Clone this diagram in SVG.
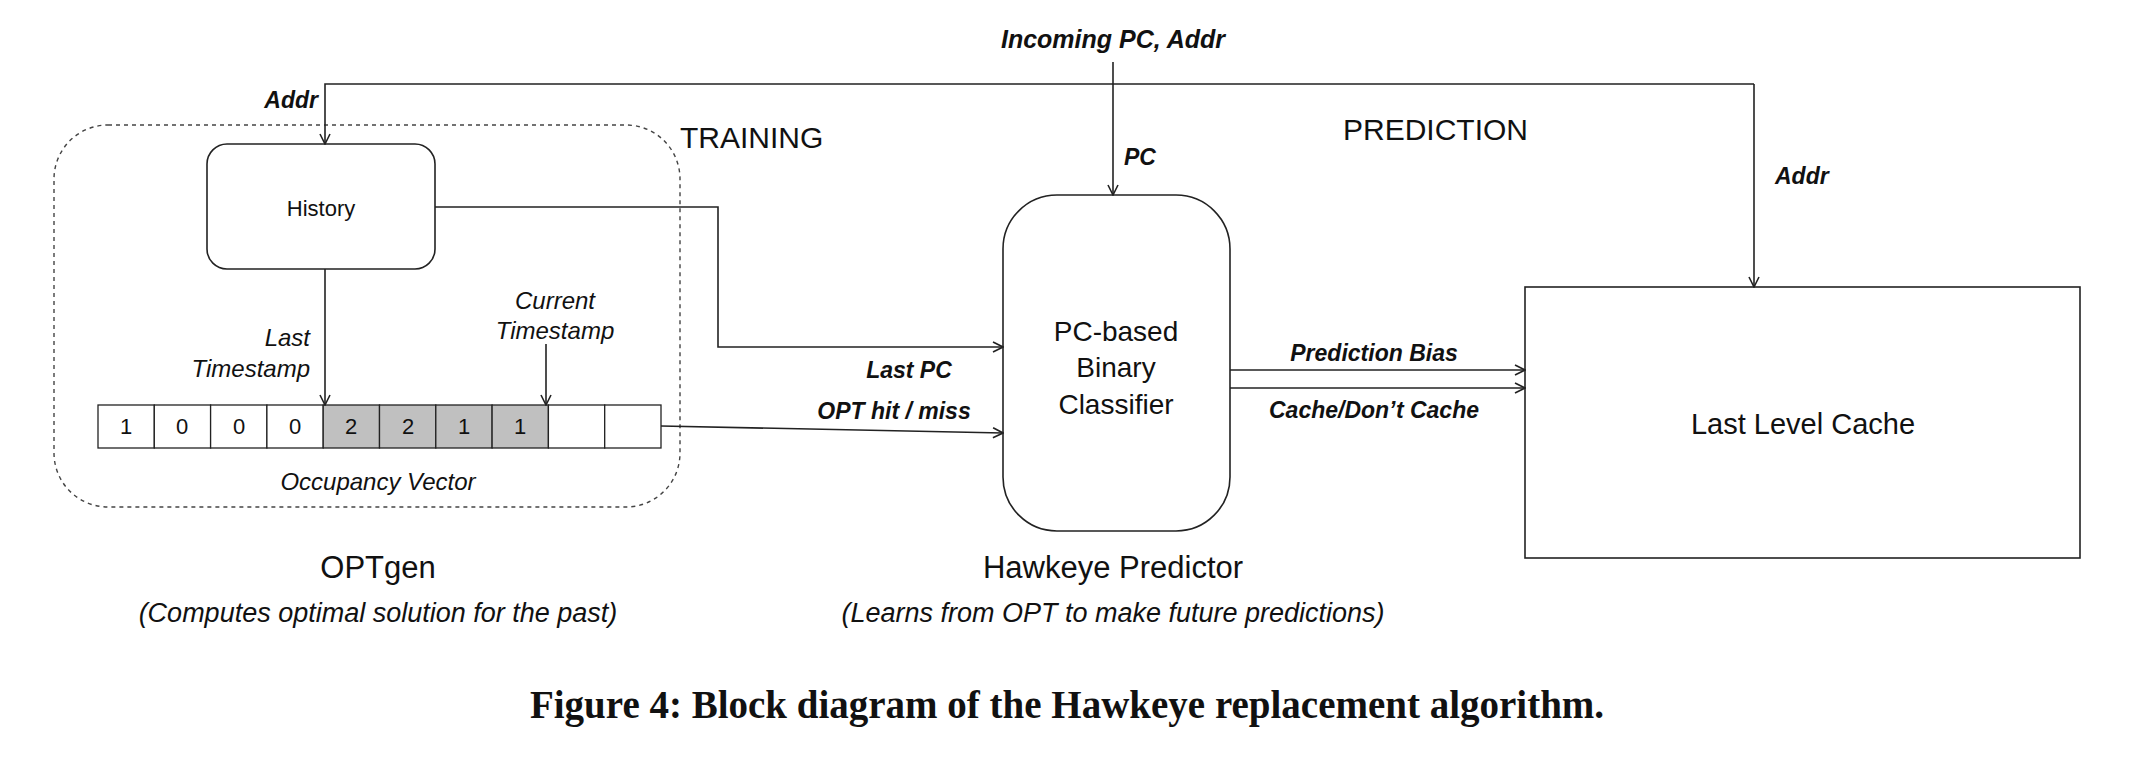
<svg xmlns="http://www.w3.org/2000/svg" width="2133" height="760" viewBox="0 0 2133 760">
<style>
text{font-family:"Liberation Sans",Arial,sans-serif;fill:#111}
.lbl{font-weight:bold;font-style:italic}
.it{font-style:italic}
.ln{fill:none;stroke:#222;stroke-width:1.6}
.cell{fill:#fff;stroke:#222;stroke-width:1.3}
.g{fill:#c0c0c0}
.ct{text-anchor:middle}
</style>
<defs><marker id="a" viewBox="0 0 12 12" refX="11" refY="6" markerWidth="12" markerHeight="12" markerUnits="userSpaceOnUse" orient="auto"><path d="M1,1 L11,6 L1,11" fill="none" stroke="#222" stroke-width="1.6"/></marker></defs>
<rect width="2133" height="760" fill="#fff"/>
<g id="training">
<rect x="54" y="125" width="626" height="382" rx="54" fill="none" stroke="#444" stroke-width="1.4" stroke-dasharray="4,4"/>
<text x="680" y="148" font-size="30">TRAINING</text>
</g>
<text x="1343" y="140" font-size="30">PREDICTION</text>
<g id="history"><rect x="207" y="144" width="228" height="125" rx="20" fill="#fff" stroke="#222" stroke-width="1.6"/><text x="321" y="216" font-size="22" text-anchor="middle">History</text></g>
<g id="vector" font-size="22">
<rect class="cell" x="98" y="405" width="56.3" height="43"/><rect class="cell" x="154.3" y="405" width="56.3" height="43"/><rect class="cell" x="210.6" y="405" width="56.3" height="43"/><rect class="cell" x="266.9" y="405" width="56.3" height="43"/>
<rect class="cell g" x="323.2" y="405" width="56.3" height="43"/><rect class="cell g" x="379.5" y="405" width="56.3" height="43"/><rect class="cell g" x="435.8" y="405" width="56.3" height="43"/><rect class="cell g" x="492.1" y="405" width="56.3" height="43"/>
<rect class="cell" x="548.4" y="405" width="56.3" height="43"/><rect class="cell" x="604.7" y="405" width="56.3" height="43"/>
<text class="ct" x="126" y="434">1</text><text class="ct" x="182" y="434">0</text><text class="ct" x="239" y="434">0</text><text class="ct" x="295" y="434">0</text><text class="ct" x="351" y="434">2</text><text class="ct" x="408" y="434">2</text><text class="ct" x="464" y="434">1</text><text class="ct" x="520" y="434">1</text>
<text class="it" x="378" y="490" text-anchor="middle" font-size="24">Occupancy Vector</text>
</g>
<g id="classifier"><rect x="1003" y="195" width="227" height="336" rx="54" fill="#fff" stroke="#222" stroke-width="1.6"/>
<text x="1116" y="341" font-size="28" text-anchor="middle">PC-based</text><text x="1116" y="377" font-size="28" text-anchor="middle">Binary</text><text x="1116" y="414" font-size="28" text-anchor="middle">Classifier</text></g>
<g id="llc"><rect x="1525" y="287" width="555" height="271" fill="#fff" stroke="#222" stroke-width="1.6"/><text x="1803" y="434" font-size="29" text-anchor="middle">Last Level Cache</text></g>
<g id="connectors">
<path class="ln" d="M1113,62 V195" marker-end="url(#a)"/>
<path class="ln" d="M1754,84 H325 V144" marker-end="url(#a)"/>
<path class="ln" d="M1754,84 V287" marker-end="url(#a)"/>
<path class="ln" d="M325,269 V405" marker-end="url(#a)"/>
<path class="ln" d="M546,344 V405" marker-end="url(#a)"/>
<path class="ln" d="M435,207 H718 V347 H1003" marker-end="url(#a)"/>
<path class="ln" d="M661,426 L1003,433" marker-end="url(#a)"/>
<path class="ln" d="M1230,370 H1525" marker-end="url(#a)"/>
<path class="ln" d="M1230,388 H1525" marker-end="url(#a)"/>
</g>
<g id="labels" font-size="23">
<text class="lbl" x="1113" y="48" text-anchor="middle" font-size="25">Incoming PC, Addr</text>
<text class="lbl" x="318" y="108" text-anchor="end">Addr</text>
<text class="lbl" x="1124" y="165">PC</text>
<text class="lbl" x="1775" y="184">Addr</text>
<text class="it" x="310" y="346" text-anchor="end" font-size="24">Last</text>
<text class="it" x="310" y="377" text-anchor="end" font-size="24">Timestamp</text>
<text class="it" x="555" y="309" text-anchor="middle" font-size="24">Current</text>
<text class="it" x="555" y="339" text-anchor="middle" font-size="24">Timestamp</text>
<text class="lbl" x="909" y="378" text-anchor="middle">Last PC</text>
<text class="lbl" x="894" y="419" text-anchor="middle">OPT hit / miss</text>
<text class="lbl" x="1374" y="361" text-anchor="middle">Prediction Bias</text>
<text class="lbl" x="1374" y="418" text-anchor="middle">Cache/Don’t Cache</text>
<text x="378" y="578" font-size="31" text-anchor="middle">OPTgen</text>
<text class="it" x="378" y="622" text-anchor="middle" font-size="27">(Computes optimal solution for the past)</text>
<text x="1113" y="578" font-size="31" text-anchor="middle">Hawkeye Predictor</text>
<text class="it" x="1113" y="622" text-anchor="middle" font-size="27">(Learns from OPT to make future predictions)</text>
<text x="1067" y="718" font-size="39" font-weight="bold" text-anchor="middle" style="font-family:'Liberation Serif','Times New Roman',serif">Figure 4: Block diagram of the Hawkeye replacement algorithm.</text>
</g>
</svg>
